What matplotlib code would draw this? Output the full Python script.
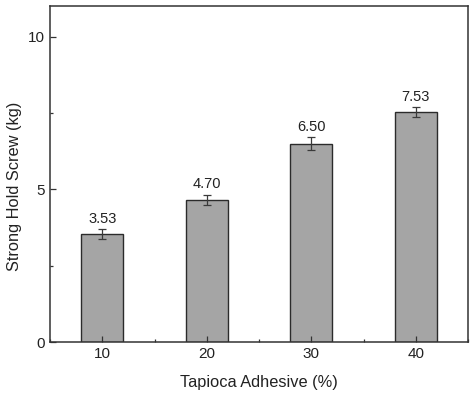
import matplotlib
matplotlib.use('Agg')
import matplotlib.pyplot as plt
from matplotlib.ticker import MultipleLocator

plt.rcParams['font.family'] = ['Liberation Sans', 'DejaVu Sans']

adhesive = [10, 20, 30, 40]
hold = [3.53, 4.65, 6.50, 7.53]
err = [0.16, 0.17, 0.20, 0.16]
labels = ['3.53', '4.70', '6.50', '7.53']

fig = plt.figure(figsize=(4.74, 3.96), dpi=100)
ax = fig.add_axes([50 / 474, (396 - 342.3) / 396, 418 / 474, 336.3 / 396])

ax.bar(adhesive, hold, width=4, color='#a5a5a5', edgecolor='#2b2b2b', linewidth=1.0,
       yerr=err, capsize=3, error_kw=dict(ecolor='#3a3a3a', elinewidth=0.9, capthick=0.9))

for x, h, e, t in zip(adhesive, hold, err, labels):
    ax.text(x, h + e + 0.12, t, ha='center', va='bottom', fontsize=10.5, color='#222222')

ax.set_xlim(5, 45)
ax.set_ylim(0, 11)
ax.set_xticks(adhesive)
ax.set_yticks([0, 5, 10])
ax.xaxis.set_minor_locator(MultipleLocator(5))
ax.yaxis.set_minor_locator(MultipleLocator(2.5))
ax.tick_params(which='both', direction='in', labelsize=11, colors='#333333', labelcolor='#222222')
ax.tick_params(which='major', length=4, width=0.9)
ax.tick_params(which='minor', length=2.5, width=0.9)
for s in ax.spines.values():
    s.set_linewidth(1.1)
    s.set_color('#333333')

ax.set_xlabel('Tapioca Adhesive (%)', fontsize=11.8, color='#222222', va='center')
ax.set_ylabel('Strong Hold Screw (kg)', fontsize=11.8, color='#222222', va='center')
ax.xaxis.set_label_coords(0.5, -0.121)
ax.yaxis.set_label_coords(-0.084, 0.465)

fig.savefig('out.png', dpi=100)
